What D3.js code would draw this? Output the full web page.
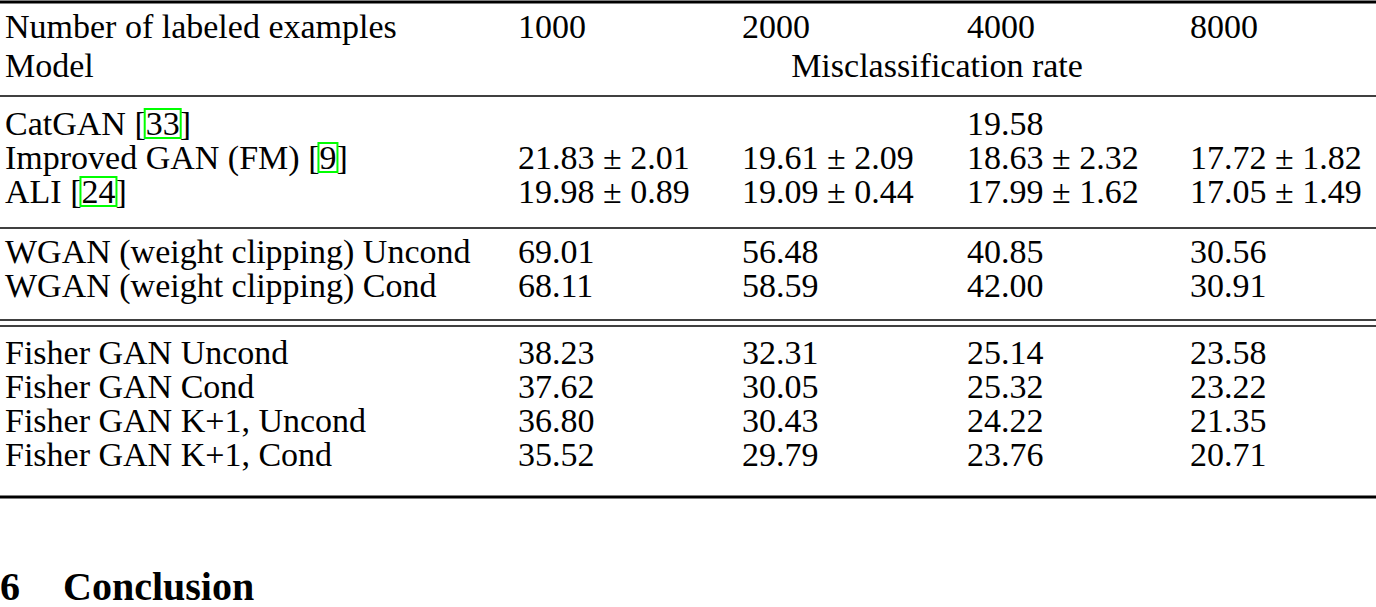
<!DOCTYPE html><html><head><meta charset="utf-8"><script src="https://cdn.jsdelivr.net/npm/d3@7"></script>
<style>body{margin:0;background:#fff}svg{display:block}text{font-family:"Liberation Serif","Times New Roman",serif;font-size:34px;fill:#000}</style></head><body><svg id="c" width="1376" height="607"></svg><script>
const columns=["1000","2000","4000","8000"];
const models=["CatGAN","Improved GAN (FM)","ALI","WGAN (weight clipping) Uncond","WGAN (weight clipping) Cond","Fisher GAN Uncond","Fisher GAN Cond","Fisher GAN K+1, Uncond","Fisher GAN K+1, Cond"];
const cites=["33","9","24",null,null,null,null,null,null];
const values=[
["","","19.58",""],
["21.83 ± 2.01","19.61 ± 2.09","18.63 ± 2.32","17.72 ± 1.82"],
["19.98 ± 0.89","19.09 ± 0.44","17.99 ± 1.62","17.05 ± 1.49"],
["69.01","56.48","40.85","30.56"],
["68.11","58.59","42.00","30.91"],
["38.23","32.31","25.14","23.58"],
["37.62","30.05","25.32","23.22"],
["36.80","30.43","24.22","21.35"],
["35.52","29.79","23.76","20.71"]];
const rowBase=[135,169,203,263,297,364,398,432,466];
const svg=d3.select("#c");
const x=d3.scaleOrdinal().domain(columns).range([518,742,967,1190]);
const hl=(y,w)=>svg.append("line").attr("x1",0).attr("x2",1376).attr("y1",y).attr("y2",y).attr("stroke","#000").attr("stroke-width",w);
hl(2,3);hl(96,1.5);hl(228,1.5);hl(320,1.5);hl(326,1.5);hl(497,3);
svg.append("text").attr("x",5).attr("y",38).text("Number of labeled examples");
svg.append("text").attr("x",5).attr("y",77).text("Model");
columns.forEach(c=>svg.append("text").attr("x",x(c)).attr("y",38).text(c));
svg.append("text").attr("x",937).attr("y",77).attr("text-anchor","middle").text("Misclassification rate");
models.forEach((m,i)=>{
  const t=svg.append("text").attr("x",5).attr("y",rowBase[i]);
  t.append("tspan").text(m+(cites[i]?" [":""));
  if(cites[i]){t.append("tspan").attr("class","cite").text(cites[i]);t.append("tspan").text("]");}
  values[i].forEach((v,j)=>svg.append("text").attr("x",x(columns[j])).attr("y",rowBase[i]).text(v));
});
svg.selectAll("tspan.cite").each(function(){
  const n=this.getNumberOfChars();const s=this.getExtentOfChar(0),e=this.getExtentOfChar(n-1);
  svg.append("rect").attr("x",s.x-1).attr("y",s.y+4).attr("width",e.x+e.width-s.x+2).attr("height",s.height-8).attr("fill","none").attr("stroke","#00ff00").attr("stroke-width",2);
});
svg.append("text").attr("x",0).attr("y",600).attr("font-weight","bold").style("font-size","40px").text("6");
svg.append("text").attr("x",63).attr("y",600).attr("font-weight","bold").style("font-size","40px").text("Conclusion");
</script></body></html>
